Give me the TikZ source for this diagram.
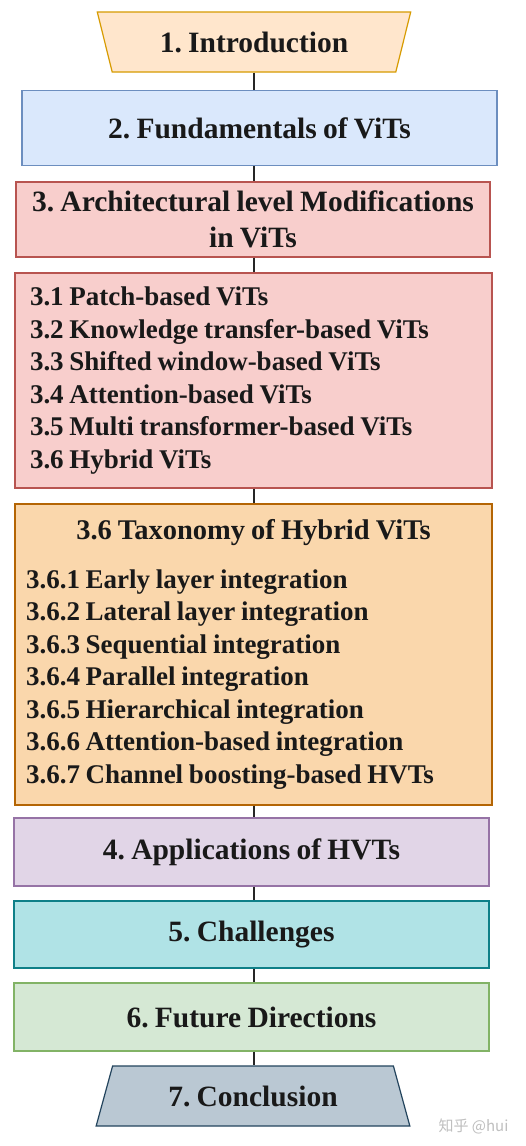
\documentclass[tikz,border=0pt]{standalone}
\usepackage{fontspec}
\setmainfont{Liberation Serif}[WordSpace=0.85]
\newfontfamily\cjkfont{Noto Sans CJK SC}
\usetikzlibrary{shapes.geometric}
\frenchspacing
\definecolor{introF}{HTML}{FFE6CC}\definecolor{introD}{HTML}{D79B00}
\definecolor{blueF}{HTML}{DAE8FC}\definecolor{blueD}{HTML}{6C8EBF}
\definecolor{redF}{HTML}{F8CECC}\definecolor{redD}{HTML}{B85450}
\definecolor{orF}{HTML}{FAD7AC}\definecolor{orD}{HTML}{B46504}
\definecolor{purF}{HTML}{E1D5E7}\definecolor{purD}{HTML}{9673A6}
\definecolor{cyF}{HTML}{B0E3E6}\definecolor{cyD}{HTML}{0E8088}
\definecolor{grF}{HTML}{D5E8D4}\definecolor{grD}{HTML}{82B366}
\definecolor{slF}{HTML}{BAC8D3}\definecolor{slD}{HTML}{23445D}
\begin{document}
\begin{tikzpicture}[x=1pt,y=-1pt,
  every node/.style={font=\bfseries\fontsize{29.5}{32.5}\selectfont, text=black!90},
  itemfont/.style={font=\bfseries\fontsize{27}{32.5}\selectfont},
  boxnode/.style={rectangle, draw, line width=1.2pt, inner sep=0pt, align=center},
  trapnode/.style={trapezium, draw, line width=1.2pt, trapezium stretches=true, trapezium angle=64.6, inner sep=0pt},
  conn/.style={line width=2pt, black!85}]
\useasboundingbox (0,0) rectangle (526,1146);
\fill[white] (0,0) rectangle (526,1146);

\node[trapnode, shape border rotate=180, fill=introF, draw=introD, minimum width=314pt, minimum height=60pt] (intro) at (254,42) {1. Introduction};
\node[boxnode, fill=blueF, draw=blueD, minimum width=475pt, minimum height=75pt] (b2) at (259.5,128) {2. Fundamentals of ViTs};
\node[boxnode, fill=redF, draw=redD, minimum width=474pt, minimum height=75pt] (b3) at (253,219.5) {3. Architectural level Modifications\\[3pt]in ViTs};
\node[boxnode, itemfont, fill=redF, draw=redD, minimum width=477pt, minimum height=215pt, text width=447pt, align=left] (b31) at (253.5,380.5) {\spaceskip=0pt\xspaceskip=0pt\relax 3.1 Patch-based ViTs\\3.2 Knowledge transfer-based ViTs\\3.3 Shifted window-based ViTs\\3.4 Attention-based ViTs\\3.5 Multi transformer-based ViTs\\3.6 Hybrid ViTs};
\node[boxnode, itemfont, fill=orF, draw=orD, minimum width=477pt, minimum height=301pt, text width=455pt, align=left] (b36) at (253.5,654.5) {\spaceskip=0pt\xspaceskip=0pt\relax\makebox[455pt][c]{\fontsize{28.5}{32.5}\selectfont 3.6 Taxonomy of Hybrid ViTs}\\[16pt]3.6.1 Early layer integration\\3.6.2 Lateral layer integration\\3.6.3 Sequential integration\\3.6.4 Parallel integration\\3.6.5 Hierarchical integration\\3.6.6 Attention-based integration\\3.6.7 Channel boosting-based HVTs\\[8pt]};
\node[boxnode, fill=purF, draw=purD, minimum width=475pt, minimum height=68pt] (b4) at (251.5,852) {4. Applications of HVTs};
\node[boxnode, fill=cyF, draw=cyD, minimum width=475pt, minimum height=67pt] (b5) at (251.5,934.5) {5. Challenges};
\node[boxnode, fill=grF, draw=grD, minimum width=475pt, minimum height=68pt] (b6) at (251.5,1017) {6. Future Directions};
\node[trapnode, fill=slF, draw=slD, minimum width=314pt, minimum height=60pt] (concl) at (253,1096) {7. Conclusion};

\draw[conn] (intro.south) -- (intro.south |- b2.north);
\draw[conn] (intro.south |- b2.south) -- (intro.south |- b3.north);
\draw[conn] (intro.south |- b3.south) -- (intro.south |- b31.north);
\draw[conn] (intro.south |- b31.south) -- (intro.south |- b36.north);
\draw[conn] (intro.south |- b36.south) -- (intro.south |- b4.north);
\draw[conn] (intro.south |- b4.south) -- (intro.south |- b5.north);
\draw[conn] (intro.south |- b5.south) -- (intro.south |- b6.north);
\draw[conn] (intro.south |- b6.south) -- (intro.south |- concl.north);

\node[font=\cjkfont\fontsize{15}{15}\selectfont, text=black!25, anchor=east] (wm) at (512,1126) {知乎 @hui};
\end{tikzpicture}
\end{document}
